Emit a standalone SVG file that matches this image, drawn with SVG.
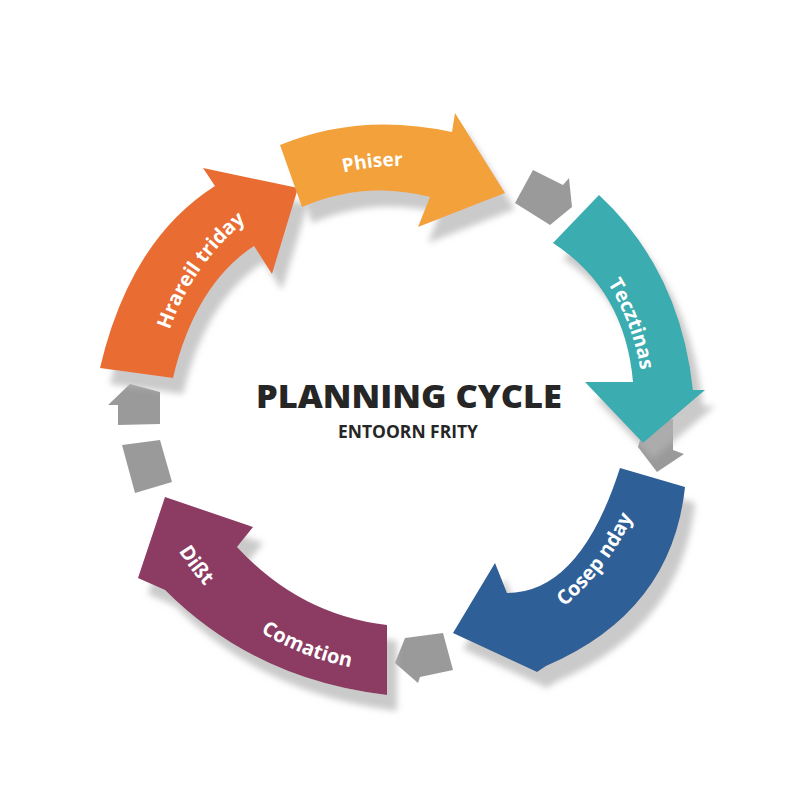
<svg xmlns="http://www.w3.org/2000/svg" xmlns:xlink="http://www.w3.org/1999/xlink" width="800" height="800" viewBox="0 0 800 800">
<defs>
<filter id="sh" x="-30%" y="-30%" width="160%" height="160%">
<feDropShadow dx="10" dy="16" stdDeviation="3" flood-color="#b4b4b4" flood-opacity="0.7"/>
</filter>
<path id="tpOrange" d="M156,410 A244,244 0 0,1 316.5,180.7"/>
<path id="tpYellow" d="M255.2,213.5 A244,244 0 0,1 497.7,186.4"/>
<path id="tpTeal" d="M554.8,222.7 A243,243 0 0,1 640.6,450.5"/>
<path id="tpBlue" d="M498.4,646.4 A256,256 0 0,0 653.9,443"/>
<path id="tpMag1" d="M150,487 A260,260 0 0,0 258,632"/>
<path id="tpMag2" d="M195,573.1 A262,262 0 0,0 438.7,669.1"/>
</defs>
<style>
.lbl{font-family:"Open Sans","Liberation Sans",sans-serif;font-weight:700;fill:#ffffff;font-size:20px}
.gray{fill:#9a9a9a}
.title{font-family:"Open Sans","Liberation Sans",sans-serif;font-weight:800;fill:#262626}
</style>
<rect width="800" height="800" fill="#ffffff"/>

<g id="connectors">
<polygon class="gray" points="515,203 533,170 563,185 569,178 572,207 550,225"/>
<polygon class="gray" points="645,424 673,419 673,450 684,454 657,472 638,447"/>
<polygon class="gray" points="405,638 443,633 453,670 420,677 418,683 395,663"/>
<polygon class="gray" points="122,445 160,440 172,482 135,493"/>
<polygon class="gray" points="118,425 160,424 160,392 130,384 108,405 118,405"/>
</g>

<g id="node-orange">
<path d="M100,368 Q130,240 215,186 L203,168 L298,188 L272,274 L254,246 Q195,285 173,378 Z" fill="#e96c30" filter="url(#sh)"/>
<text class="lbl"><textPath xlink:href="#tpOrange" href="#tpOrange" startOffset="50%" text-anchor="middle">Hrareil triday</textPath></text>
</g>

<g id="node-yellow">
<path d="M280,145 Q360,112 452,132 L455,113 L505,193 L418,227 L430,197 Q365,180 302,207 Z" fill="#f2a13a" filter="url(#sh)"/>
<text class="lbl" style="font-size:19px"><textPath xlink:href="#tpYellow" href="#tpYellow" startOffset="50%" text-anchor="middle">Phiser</textPath></text>
</g>

<g id="node-teal">
<path d="M599,195 Q680,270 693,390 L705,390 L643,443 L585,382 L633,382 Q625,290 553,243 Z" fill="#3aacb0" filter="url(#sh)"/>
<text class="lbl"><textPath xlink:href="#tpTeal" href="#tpTeal" startOffset="50%" text-anchor="middle">Tecztinas</textPath></text>
</g>

<g id="node-blue">
<path d="M685,487 Q672,612 546,666 L537,672 L453,633 L495,563 L507,593 Q580,593 620,468 Z" fill="#2d5e97" filter="url(#sh)"/>
<text class="lbl"><textPath xlink:href="#tpBlue" href="#tpBlue" startOffset="50%" text-anchor="middle">Cosep nday</textPath></text>
</g>

<g id="node-magenta">
<path d="M387,695 Q255,680 165,590 L138,578 L165,497 L253,527 L237,547 Q300,615 387,625 Z" fill="#8c3a62" filter="url(#sh)"/>
<text class="lbl"><textPath xlink:href="#tpMag1" href="#tpMag1" startOffset="50%" text-anchor="middle">Dißt</textPath></text>
<text class="lbl"><textPath xlink:href="#tpMag2" href="#tpMag2" startOffset="50%" text-anchor="middle">Comation</textPath></text>
</g>

<g id="title">
<text class="title" x="409" y="408" font-size="32" text-anchor="middle" textLength="306" lengthAdjust="spacingAndGlyphs">PLANNING CYCLE</text>
<text class="title" x="408" y="438" font-size="18.5" text-anchor="middle" textLength="140" lengthAdjust="spacingAndGlyphs" style="font-weight:700">ENTOORN FRITY</text>
</g>
</svg>
